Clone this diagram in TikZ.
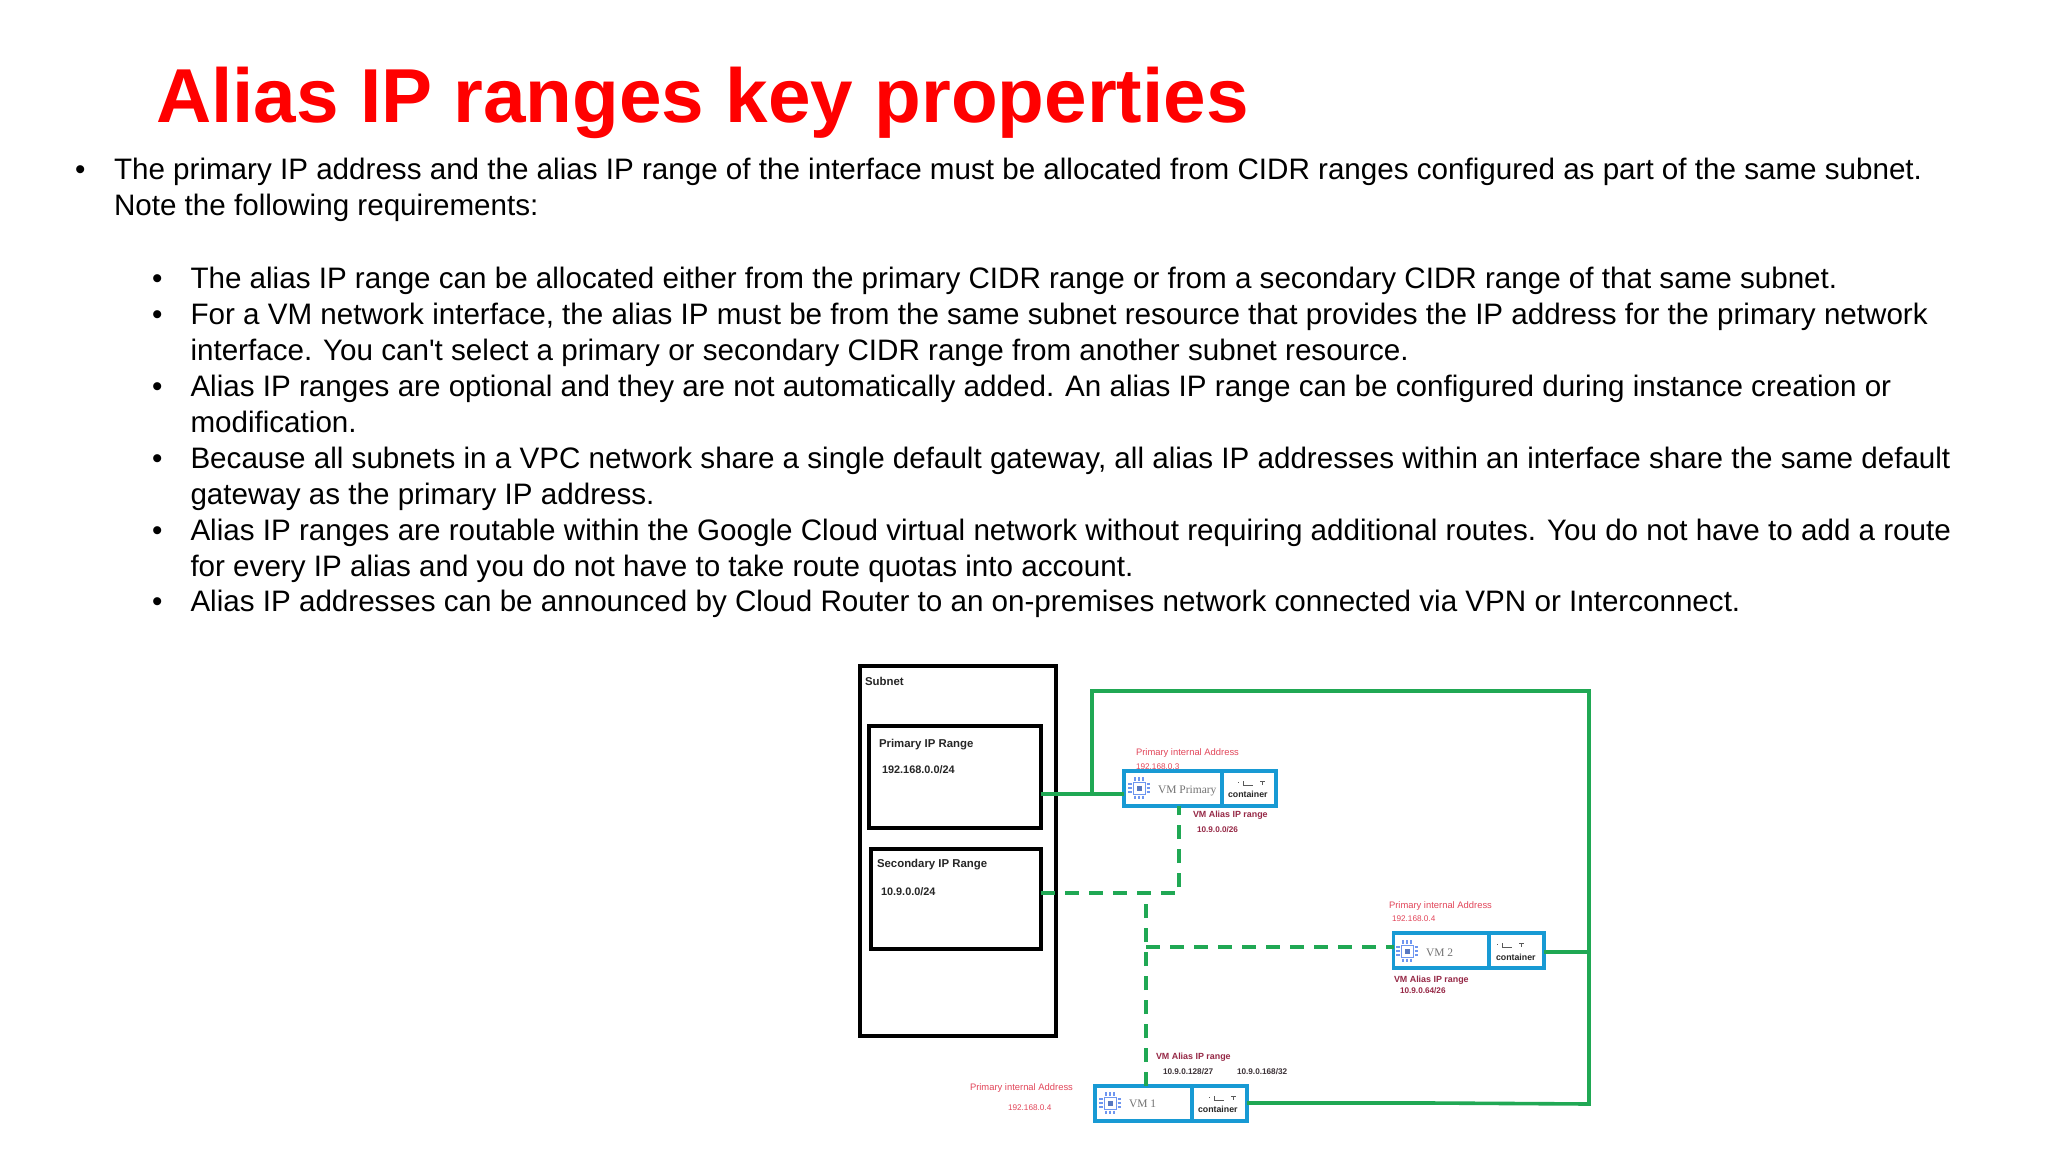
\documentclass[tikz,border=0pt]{standalone}
\usepackage{fontspec}
\setmainfont{Liberation Sans}
\newfontfamily\vmserif{Liberation Serif}
\newfontfamily\bodyf{Liberation Sans}
\definecolor{linkgreen}{RGB}{32,168,84}
\definecolor{vmblue}{RGB}{24,154,212}
\definecolor{chipblue}{RGB}{110,150,240}
\definecolor{addrred}{RGB}{226,70,90}
\definecolor{aliasred}{RGB}{150,40,70}
\definecolor{ipgrey}{RGB}{60,50,55}
\tikzset{
  txt/.style={anchor=base west,inner sep=0pt,outer sep=0pt},
  titletxt/.style={txt,text=red,font=\fontsize{76.5}{80}\selectfont\bfseries},
  bodytxt/.style={txt,text=black,font=\bodyf\fontsize{29.6}{36}\selectfont},
  blk/.style={draw=black,line width=4.2pt,fill=white,inner sep=0pt,outer sep=0pt},
  rangelbl/.style={txt,text=black!85,font=\fontsize{11.4}{14}\selectfont\bfseries},
  rangeip/.style={txt,text=black!85,font=\fontsize{10.9}{14}\selectfont\bfseries},
  addrlbl/.style={txt,text=addrred,font=\fontsize{9.4}{12}\selectfont},
  ipred/.style={txt,text=addrred,font=\fontsize{8.2}{12}\selectfont},
  aliaslbl/.style={txt,text=aliasred,font=\fontsize{8.9}{12}\selectfont\bfseries},
  iplbl/.style={txt,text=ipgrey,font=\fontsize{8.2}{12}\selectfont\bfseries},
  vmbox/.style={draw=vmblue,line width=3.6pt,fill=white,inner sep=0pt,outer sep=0pt},
  vmname/.style={txt,text=black!55,font=\fontsize{11.5}{14}\selectfont\vmserif},
  ctrlbl/.style={txt,text=black!85,font=\fontsize{8.8}{12}\selectfont\bfseries},
  solidlink/.style={draw=linkgreen,line width=3.6pt,line join=miter},
  dashlink/.style={draw=linkgreen,line width=3.8pt,dash pattern=on 14pt off 10pt},
  chipic/.pic={
    \draw[chipblue,line width=0.8pt,fill=white] (-6,-6) rectangle (6,6);
    \fill[chipblue!80!black] (-2.5,-2.5) rectangle (2.5,2.5);
    \foreach \k in {-4,0,4}{
      \draw[chipblue,line width=1.1pt] (\k,-7.5) -- (\k,-11) (\k,7.5) -- (\k,11) (-7.5,\k) -- (-11,\k) (7.5,\k) -- (11,\k);
    }
  },
  ctrmarks/.pic={
    \draw[black!65,line width=0.8pt] (0,0) -- (0,1) (5,-1) -- (5,3.5) -- (15,3.5) (22,-1) -- (27,-1) (24.5,-1) -- (24.5,3);
  }
}
\begin{document}
\begin{tikzpicture}[x=1pt,y=-1pt]
\useasboundingbox (0,0) rectangle (2048,1152);
\fill[white] (0,0) rectangle (2048,1152);

\node[titletxt] (title) at (156,122) {Alias IP ranges key properties};

\node[bodytxt] (b1) at (75,179.5) {•};
\node[bodytxt] (l1) at (114,179.5) {The primary IP address and the alias IP range of the interface must be allocated from CIDR ranges configured as part of the same subnet.};
\node[bodytxt] (l2) at (114,215.5) {Note the following requirements:};
\node[bodytxt] (b2) at (152,288.5) {•};
\node[bodytxt] (l3) at (190.5,288.5) {The alias IP range can be allocated either from the primary CIDR range or from a secondary CIDR range of that same subnet.};
\node[bodytxt] (b3) at (152,324.5) {•};
\node[bodytxt] (l4) at (190.5,324.5) {For a VM network interface, the alias IP must be from the same subnet resource that provides the IP address for the primary network};
\node[bodytxt] (l5) at (190.5,360.5) {interface. You can't select a primary or secondary CIDR range from another subnet resource.};
\node[bodytxt] (b4) at (152,396.5) {•};
\node[bodytxt] (l6) at (190.5,396.5) {Alias IP ranges are optional and they are not automatically added. An alias IP range can be configured during instance creation or};
\node[bodytxt] (l7) at (190.5,432) {modification.};
\node[bodytxt] (b5) at (152,468) {•};
\node[bodytxt] (l8) at (190.5,468) {Because all subnets in a VPC network share a single default gateway, all alias IP addresses within an interface share the same default};
\node[bodytxt] (l9) at (190.5,504) {gateway as the primary IP address.};
\node[bodytxt] (b6) at (152,540) {•};
\node[bodytxt] (l10) at (190.5,540) {Alias IP ranges are routable within the Google Cloud virtual network without requiring additional routes. You do not have to add a route};
\node[bodytxt] (l11) at (190.5,576) {for every IP alias and you do not have to take route quotas into account.};
\node[bodytxt] (b7) at (152,611.5) {•};
\node[bodytxt] (l12) at (190.5,611.5) {Alias IP addresses can be announced by Cloud Router to an on-premises network connected via VPN or Interconnect.};

% subnet boxes
\node[blk,minimum width=196pt,minimum height=370pt] (subnet) at (958,851) {};
\node[blk,minimum width=172pt,minimum height=102pt] (primary) at (955,777) {};
\node[blk,minimum width=170pt,minimum height=100pt] (secondary) at (956,899) {};
\node[rangelbl] (subnetlbl) at (865,685) {Subnet};
\node[rangelbl] (primarylbl) at (879,747) {Primary IP Range};
\node[rangeip] (primaryip) at (882,773) {192.168.0.0/24};
\node[rangelbl] (secondarylbl) at (877,867) {Secondary IP Range};
\node[rangeip] (secondaryip) at (881,895) {10.9.0.0/24};

% VM boxes
\node[vmbox,minimum width=98pt,minimum height=35pt] (vmp) at (1173,788.5) {};
\node[vmbox,minimum width=54pt,minimum height=35pt] (vmpc) at (1249,788.5) {};
\node[vmbox,minimum width=96pt,minimum height=35pt] (vmb) at (1441.5,950.5) {};
\node[vmbox,minimum width=55pt,minimum height=35pt] (vmbc) at (1516.5,950.5) {};
\node[vmbox,minimum width=97pt,minimum height=35pt] (vma) at (1143.5,1103.5) {};
\node[vmbox,minimum width=55pt,minimum height=35pt] (vmac) at (1219.5,1103.5) {};

% connector way points
\coordinate (pout) at (primary.east |- 0,794);
\coordinate (vmpin) at (vmp.west |- 0,794);
\coordinate (jtop) at (1092,794);
\coordinate (tl) at (1092,691);
\coordinate (tr) at (1589,691);
\coordinate (jb) at (1589,952);
\coordinate (bin) at (vmbc.east |- 0,952);
\coordinate (br) at (1589,1104);
\coordinate (ain) at (vmac.east |- 0,1103);
\coordinate (amid) at (1430,1103);
\coordinate (sout) at (secondary.east |- 0,893);
\coordinate (scorner) at (1179,893);
\coordinate (pdn) at (1179,0 |- vmp.south);
\coordinate (jd) at (1146,893);
\coordinate (je) at (1146,947);
\coordinate (vmbw) at (vmb.west |- 0,947);
\coordinate (vmat) at (vma.north -| 1146,0);

\draw[solidlink] (pout) -- (vmpin);
\draw[solidlink] (jtop) -- (tl) -- (tr) -- (br) -- (amid) -- (ain);
\draw[solidlink] (bin) -- (jb);
\draw[dashlink] (sout) -- (scorner) -- (pdn);
\draw[dashlink] (vmat) -- (jd);
\draw[dashlink] (je) -- (vmbw);

% VM Primary
\pic at (1139,788) {chipic};
\pic at (1238,782) {ctrmarks};
\node[vmname] (vmpn) at (1158,793) {VM Primary};
\node[ctrlbl] (vmpcn) at (1228,797) {container};
\node[addrlbl] (vmpa) at (1136,755) {Primary internal Address};
\node[ipred] (vmpi) at (1136,769) {192.168.0.3};
\node[aliaslbl] (vmpal) at (1193,817) {VM Alias IP range};
\node[iplbl,text=aliasred] (vmpr) at (1197,832) {10.9.0.0/26};

% VM 2
\pic at (1407,951) {chipic};
\pic at (1497,944) {ctrmarks};
\node[vmname] (vmbn) at (1426,956) {VM 2};
\node[ctrlbl] (vmbcn) at (1496,960) {container};
\node[addrlbl] (vmba) at (1389,908) {Primary internal Address};
\node[ipred] (vmbi) at (1392,921) {192.168.0.4};
\node[aliaslbl] (vmbal) at (1394,982) {VM Alias IP range};
\node[iplbl,text=aliasred] (vmbr) at (1400,993) {10.9.0.64/26};

% VM 1
\pic at (1110,1103) {chipic};
\pic at (1209,1097) {ctrmarks};
\node[vmname] (vman) at (1129,1107) {VM 1};
\node[ctrlbl] (vmacn) at (1198,1112) {container};
\node[addrlbl] (vmaa) at (970,1090) {Primary internal Address};
\node[ipred] (vmai) at (1008,1110) {192.168.0.4};
\node[aliaslbl] (vmaal) at (1156,1059) {VM Alias IP range};
\node[iplbl] (vmar) at (1163,1074) {10.9.0.128/27};
\node[iplbl] (vmas) at (1237,1074) {10.9.0.168/32};
\end{tikzpicture}
\end{document}
